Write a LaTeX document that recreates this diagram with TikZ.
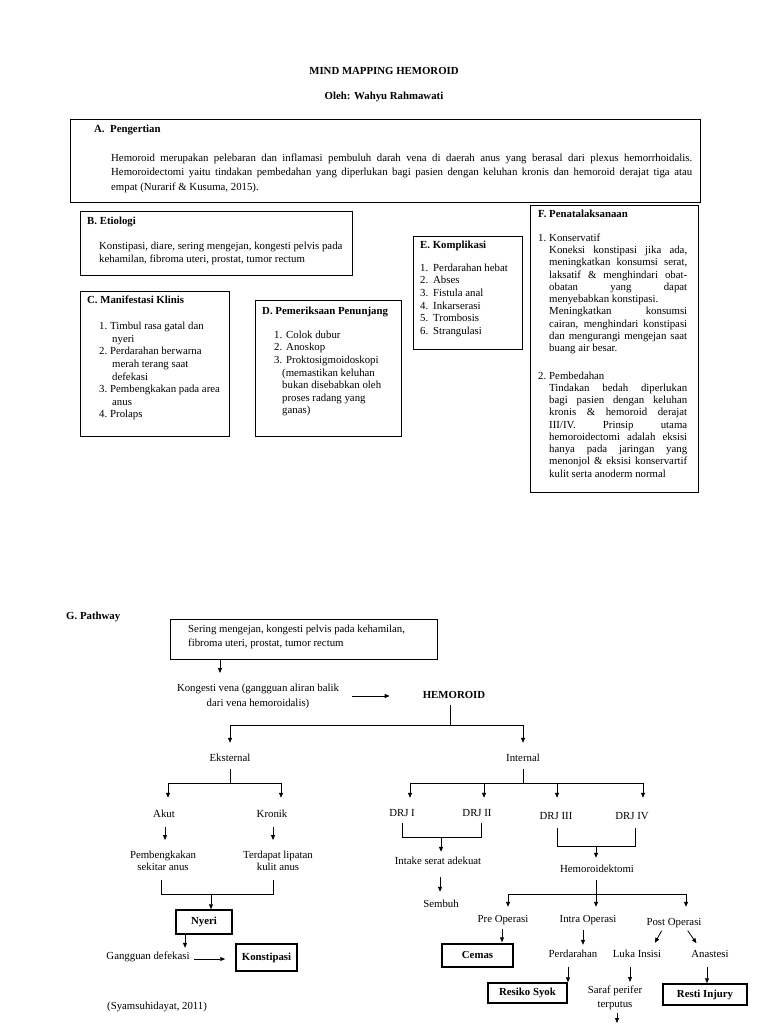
\documentclass[tikz,border=0pt]{standalone}
\usepackage{fontspec}
\setmainfont{Liberation Serif}
\usetikzlibrary{arrows.meta}
\newcommand\bfs{\fontsize{10.8pt}{12.6pt}\selectfont}
\newcommand\ls{\rule[-2.5pt]{0pt}{10pt}}
\newcommand\numbx[2][11pt]{\makebox[#1][l]{#2}}
\tolerance=9999 \hbadness=10000
\begin{document}
\begin{tikzpicture}[x=1pt,y=-1pt,
  every node/.style={inner sep=0pt, font=\bfs},
  box/.style={draw, line width=1.1pt, anchor=north west},
  lbl/.style={text height=7.5pt, text depth=2.5pt},
  bl/.style={lbl, font=\bfs\bfseries},
  hd/.style={anchor=base west, font=\bfs\bfseries},
  blk/.style={anchor=north west, align=left},
  jst/.style={anchor=north west, align=justify},
  two/.style={anchor=north, align=center},
  arr/.style={line width=0.8pt, -{Triangle[length=5pt,width=4pt]}},
  ln/.style={line width=0.8pt},
  pbox/.style={draw, line width=1.5pt, font=\bfs\bfseries, text height=7.5pt, text depth=2.5pt}]
\useasboundingbox (0,0) rectangle (768,1024);
\fill[white] (0,0) rectangle (768,1024);

% title
\node[bl] (title) at (384,72) {MIND MAPPING HEMOROID};
\node[bl] (oleh) at (384,97) {Oleh: Wahyu Rahmawati};

% A
\node[box, minimum width=630pt, minimum height=83pt] (boxA) at (70,119) {};
\node[hd] (hdA) at (94,133) {\numbx[16pt]{A.}Pengertian};
\node[jst, text width=581pt, font=\fontsize{10.8pt}{14.5pt}\selectfont] (txtA) at (111,153.5)
 {\ls Hemoroid merupakan pelebaran dan inflamasi pembuluh darah vena di daerah anus yang berasal dari plexus hemorrhoidalis.\linebreak Hemoroidectomi yaitu tindakan pembedahan yang diperlukan bagi pasien dengan keluhan kronis dan hemoroid derajat tiga atau\linebreak empat (Nurarif \& Kusuma, 2015).};

% B
\node[box, minimum width=272pt, minimum height=64pt] (boxB) at (80,211) {};
\node[hd] (hdB) at (87,225) {B. Etiologi};
\node[blk] (txtB) at (99,242) {\ls Konstipasi, diare, sering mengejan, kongesti pelvis pada\\kehamilan, fibroma uteri, prostat, tumor rectum};

% C
\node[box, minimum width=149pt, minimum height=145pt] (boxC) at (80,291) {};
\node[hd] (hdC) at (87,303.5) {C. Manifestasi Klinis};
\node[blk] (txtC) at (99,322) {\ls\numbx{1.}Timbul rasa gatal dan\\\hspace*{13pt}nyeri\\\numbx{2.}Perdarahan berwarna\\\hspace*{13pt}merah terang saat\\\hspace*{13pt}defekasi\\\numbx{3.}Pembengkakan pada area\\\hspace*{13pt}anus\\\numbx{4.}Prolaps};

% D
\node[box, minimum width=146pt, minimum height=136pt] (boxD) at (255,300) {};
\node[hd] (hdD) at (262,314) {D. Pemeriksaan Penunjang};
\node[blk] (txtD) at (274,330.5) {\ls\numbx[12pt]{1.}Colok dubur\\\numbx[12pt]{2.}Anoskop\\\numbx[12pt]{3.}Proktosigmoidoskopi\\\hspace*{8pt}(memastikan keluhan\\\hspace*{8pt}bukan disebabkan oleh\\\hspace*{8pt}proses radang yang\\\hspace*{8pt}ganas)};

% E
\node[box, minimum width=109pt, minimum height=113pt] (boxE) at (413,236) {};
\node[hd] (hdE) at (420,248) {E. Komplikasi};
\node[blk] (txtE) at (420,263.5) {\ls\numbx[13pt]{1.}Perdarahan hebat\\\numbx[13pt]{2.}Abses\\\numbx[13pt]{3.}Fistula anal\\\numbx[13pt]{4.}Inkarserasi\\\numbx[13pt]{5.}Trombosis\\\numbx[13pt]{6.}Strangulasi};

% F
\node[box, minimum width=168pt, minimum height=287pt] (boxF) at (530,205) {};
\node[hd] (hdF) at (538,218) {F. Penatalaksanaan};
\node[anchor=base west] (Fn1) at (538,241) {1.};
\node[jst, text width=138pt, font=\fontsize{10.8pt}{12.25pt}\selectfont] (txtF1) at (549,233.5)
 {\ls Konservatif\\Koneksi konstipasi jika ada,\linebreak meningkatkan konsumsi serat,\linebreak laksatif \& menghindari obat-\linebreak obatan yang dapat\linebreak menyebabkan konstipasi.\\Meningkatkan konsumsi\linebreak cairan, menghindari konstipasi\linebreak dan mengurangi mengejan saat\linebreak buang air besar.};
\node[anchor=base west] (Fn2) at (538,379) {2.};
\node[jst, text width=138pt, font=\fontsize{10.8pt}{12.25pt}\selectfont] (txtF2) at (549,371.5)
 {\ls Pembedahan\\Tindakan bedah diperlukan\linebreak bagi pasien dengan keluhan\linebreak kronis \& hemoroid derajat\linebreak III/IV. Prinsip utama\linebreak hemoroidectomi adalah eksisi\linebreak hanya pada jaringan yang\linebreak menonjol \& eksisi konservartif\linebreak kulit serta anoderm normal};

% G Pathway
\node[hd] (hdG) at (66,619) {G. Pathway};
\node[box, minimum width=267pt, minimum height=40pt] (pTop) at (170,619) {};
\node[blk] (pTopTxt) at (188,624.5) {\ls Sering mengejan, kongesti pelvis pada kehamilan,\\[1.4pt]fibroma uteri, prostat, tumor rectum};
\node[two] (kong) at (258,683.5) {\ls Kongesti vena (gangguan aliran balik\\[2.9pt]dari vena hemoroidalis)\ls};
\node[bl] (hemo) at (454,696) {HEMOROID};
\draw[arr, shorten >=10.5pt] ([xshift=50pt]pTop.south west) -- ([xshift=50pt]pTop.south west |- kong.north);
\draw[arr, shorten <=13pt, shorten >=33pt] (kong.east |- hemo.west) -- (hemo.west);

\coordinate (jH) at (450,725);
\node[lbl] (eks) at (230,759) {Eksternal};
\node[lbl] (int) at (523,759) {Internal};
\draw[ln, shorten <=4pt] (hemo.south -| jH) -- (jH);
\draw[arr, shorten >=11pt] (jH) -| (eks.north);
\draw[arr, shorten >=11pt] (jH) -| (int.north);

% Eksternal branch
\coordinate (jE) at (230,783);
\node[lbl] (akut) at (164,815) {Akut};
\node[lbl] (kron) at (272,815) {Kronik};
\draw[ln, shorten <=5pt] (eks.south) -- (jE);
\draw[arr, shorten >=12pt] (jE) -| ([xshift=4pt]akut.north);
\draw[arr, shorten >=12pt] (jE) -| ([xshift=9pt]kron.north);
\node[two] (pemb) at (163,850.5) {\ls Pembengkakan\\[-0.6pt]sekitar anus\ls};
\node[two] (terd) at (278,850.5) {\ls Terdapat lipatan\\[-0.6pt]kulit anus\ls};
\draw[arr, shorten <=7pt, shorten >=10.5pt] ([xshift=1pt]akut.south) -- ([xshift=1pt]akut.south |- pemb.north);
\draw[arr, shorten <=7pt, shorten >=10.5pt] ([xshift=1pt]kron.south) -- ([xshift=1pt]kron.south |- terd.north);
\coordinate (jP) at (211,894);
\draw[ln, shorten <=7.5pt, shorten >=7.5pt] ([xshift=-2pt]pemb.south) |- (jP) -| ([xshift=-5pt]terd.south);
\node[pbox, minimum width=56pt, minimum height=24pt] (nyeri) at (204,922) {Nyeri};
\draw[arr] (jP) -- (jP |- nyeri.north);
\node[lbl] (gang) at (148,957) {Gangguan defekasi};
\node[pbox, minimum width=61pt, minimum height=27pt] (kons) at (266.5,957.5) {Konstipasi};
\draw[arr, shorten >=4pt] ([xshift=-19pt]nyeri.south) -- ([xshift=-19pt]nyeri.south |- gang.north);
\draw[arr, shorten <=4.5pt, shorten >=10pt] ([yshift=-2pt]gang.east) -- ([yshift=-2pt]gang.east -| kons.west);
\node[lbl, anchor=west] (syam) at (107,1007) {(Syamsuhidayat, 2011)};

% Internal branch
\coordinate (jI) at (523,783);
\draw[ln, shorten <=5pt] (int.south) -- (jI);
\node[lbl] (drj1) at (402,814) {DRJ I};
\node[lbl] (drj2) at (477,814) {DRJ II};
\node[lbl] (drj3) at (556,817) {DRJ III};
\node[lbl] (drj4) at (632,817) {DRJ IV};
\draw[arr, shorten >=11pt] (jI) -| ([xshift=8pt]drj1.north);
\draw[arr, shorten >=11pt] (jI) -| ([xshift=7pt]drj2.north);
\draw[arr, shorten >=14pt] (jI) -| ([xshift=1pt]drj3.north);
\draw[arr, shorten >=14pt] (jI) -| ([xshift=11pt]drj4.north);
\coordinate (j12) at (441,837);
\draw[ln, shorten <=4pt, shorten >=4pt] (drj1.south) |- (j12) -| ([xshift=4pt]drj2.south);
\node[lbl] (intake) at (438,862) {Intake serat adekuat};
\draw[arr, shorten >=5pt] (j12) -- (j12 |- intake.north);
\node[lbl] (sembuh) at (441,905) {Sembuh};
\draw[arr, shorten <=10pt, shorten >=8pt] ([xshift=2pt]intake.south) -- ([xshift=2pt]intake.south |- sembuh.north);
\coordinate (j34) at (596,846);
\draw[ln, shorten <=6pt, shorten >=6pt] ([xshift=1pt]drj3.south) |- (j34) -| ([xshift=3pt]drj4.south);
\node[lbl] (hemk) at (597,870) {Hemoroidektomi};
\draw[arr, shorten >=7pt] (j34) -- (j34 |- hemk.north);
\coordinate (jK) at (596,894);
\draw[ln, shorten <=5pt] (hemk.south -| jK) -- (jK);
\node[lbl] (pre) at (503,920) {Pre Operasi};
\node[lbl] (intra) at (588,920) {Intra Operasi};
\node[lbl] (post) at (674,923) {Post Operasi};
\draw[arr, shorten >=8pt] (jK) -| ([xshift=5pt]pre.north);
\draw[arr, shorten >=8pt] (jK) -- (jK |- intra.north);
\draw[arr, shorten >=11pt] (jK) -| ([xshift=12pt]post.north);
\node[pbox, minimum width=71pt, minimum height=23pt] (cemas) at (477.5,955.5) {Cemas};
\draw[arr, shorten <=4pt, shorten >=1pt] ([xshift=-1pt]pre.south) -- ([xshift=-1pt]pre.south |- cemas.north);
\node[lbl] (perd) at (573,955) {Perdarahan};
\node[lbl] (luka) at (637,955) {Luka Insisi};
\node[lbl] (anas) at (710,955) {Anastesi};
\draw[arr, shorten <=5pt, shorten >=5pt] ([xshift=-5pt]intra.south) -- ([xshift=-5pt]intra.south |- perd.north);
\draw[arr, shorten <=3pt, shorten >=8pt] ([xshift=-11pt]post.south) -- ([xshift=-23pt]post.south |- luka.north);
\draw[arr, shorten <=3pt, shorten >=8pt] ([xshift=12pt]post.south) -- ([xshift=27pt]post.south |- anas.north);
\node[pbox, minimum width=79pt, minimum height=20pt] (resiko) at (527.5,993) {Resiko Syok};
\node[two] (saraf) at (615,985.5) {\ls Saraf perifer\\[1.4pt]terputus\ls};
\node[pbox, minimum width=84pt, minimum height=21pt] (resti) at (705,994.5) {Resti Injury};
\draw[arr, shorten <=7pt] ([xshift=-5pt]perd.south) -- ([xshift=-5pt]perd.south |- resiko.north);
\draw[arr, shorten <=7pt, shorten >=3.5pt] ([xshift=-7pt]luka.south) -- ([xshift=-7pt]luka.south |- saraf.north);
\draw[arr, shorten <=7pt] ([xshift=-3pt]anas.south) -- ([xshift=-3pt]anas.south |- resti.north);
\coordinate (sarafEnd) at (617,1023);
\draw[arr, shorten <=2.5pt] (saraf.south -| sarafEnd) -- (sarafEnd);
\end{tikzpicture}
\end{document}
